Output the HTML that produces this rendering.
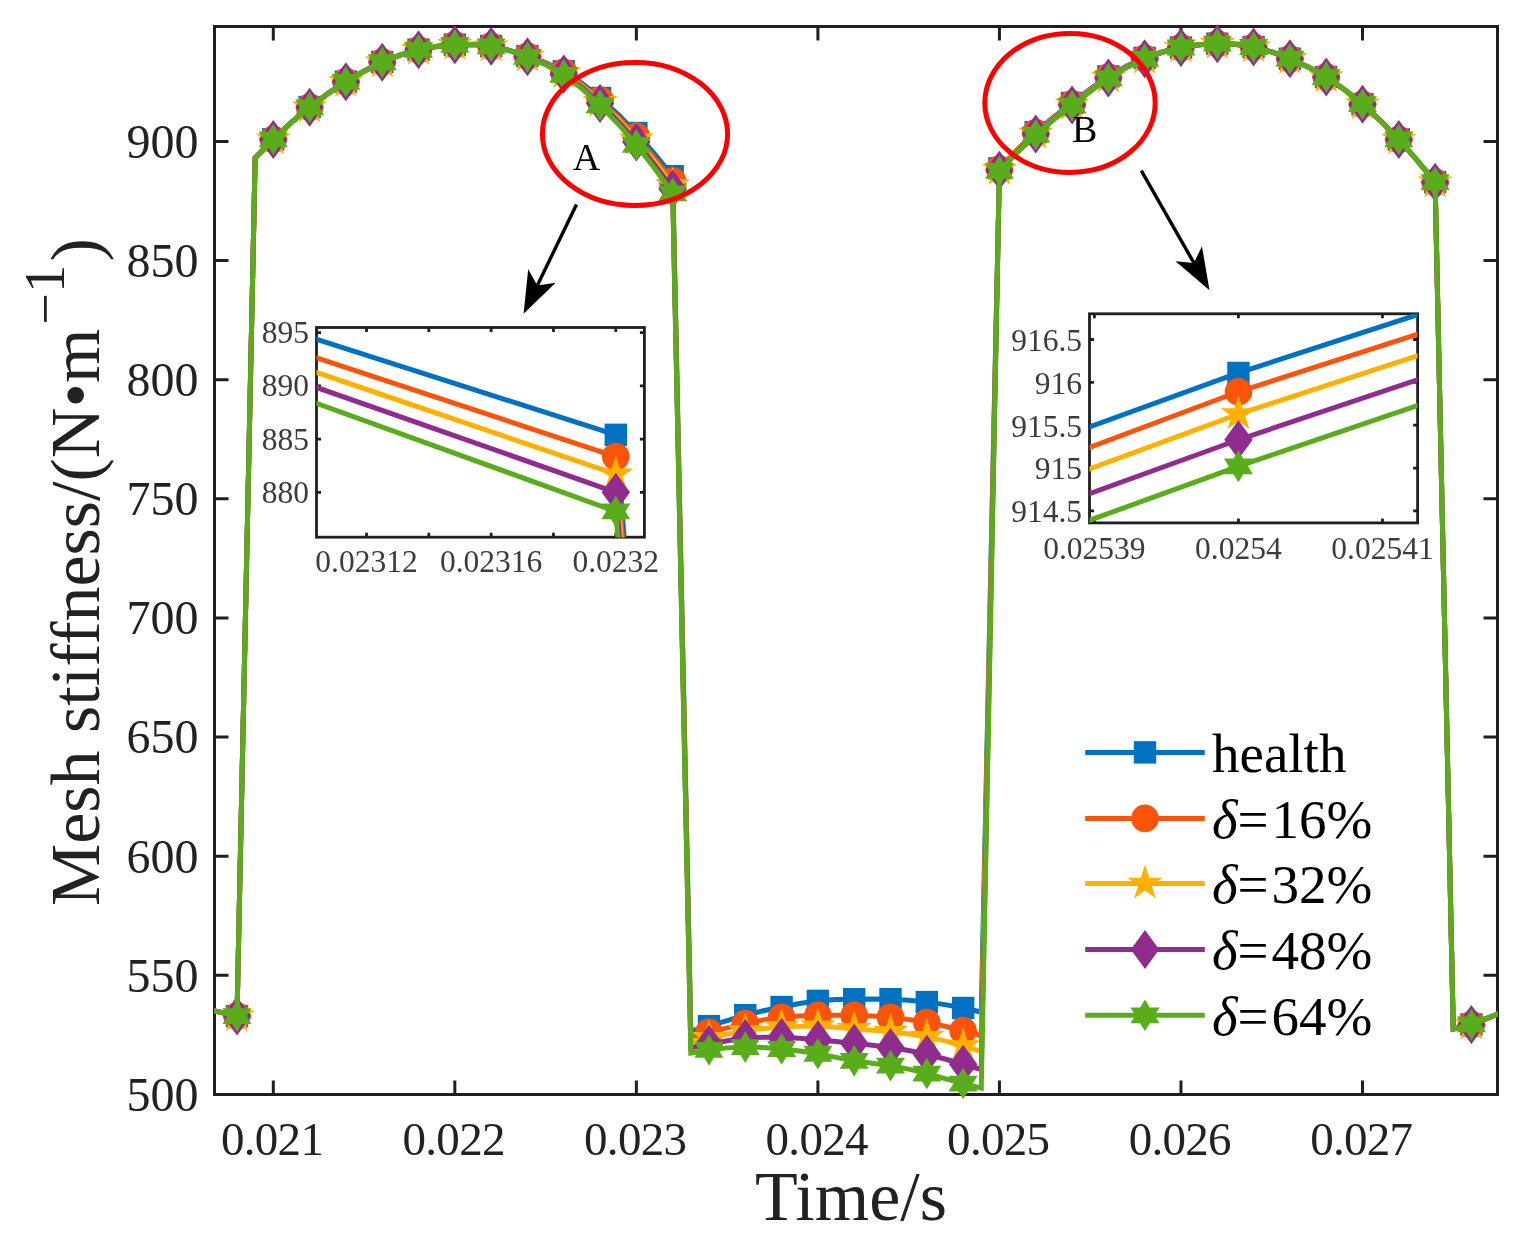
<!DOCTYPE html>
<html><head><meta charset="utf-8"><title>Mesh stiffness</title>
<style>html,body{margin:0;padding:0;background:#fff;overflow:hidden;width:1520px;height:1241px;} svg{display:block;}</style></head>
<body>
<svg width="1520" height="1241" viewBox="0 0 1520 1241" font-family="Liberation Serif, Times New Roman, serif">
<rect width="100%" height="100%" fill="#fff"/>
<defs><clipPath id="cm"><rect x="214.5" y="26.5" width="1283.0" height="1068.0"/></clipPath></defs>
<rect x="214.5" y="26.5" width="1283.0" height="1068.0" fill="none" stroke="#1f1f1f" stroke-width="3"/>
<path d="M273.3,1094.5v-14M273.3,26.5v14M454.83,1094.5v-14M454.83,26.5v14M636.37,1094.5v-14M636.37,26.5v14M817.9,1094.5v-14M817.9,26.5v14M999.43,1094.5v-14M999.43,26.5v14M1180.97,1094.5v-14M1180.97,26.5v14M1362.5,1094.5v-14M1362.5,26.5v14M214.5,1094.5h14M1497.5,1094.5h-14M214.5,975.36h14M1497.5,975.36h-14M214.5,856.22h14M1497.5,856.22h-14M214.5,737.08h14M1497.5,737.08h-14M214.5,617.94h14M1497.5,617.94h-14M214.5,498.8h14M1497.5,498.8h-14M214.5,379.66h14M1497.5,379.66h-14M214.5,260.52h14M1497.5,260.52h-14M214.5,141.38h14M1497.5,141.38h-14" stroke="#1f1f1f" stroke-width="3" fill="none"/>
<polyline clip-path="url(#cm)" points="200.69,1008.24 218.84,1011.82 236.99,1016.11 255.15,157.82 273.3,139.24 291.45,122.25 309.61,107.07 327.76,93.56 345.91,81.57 364.07,71 382.22,62.03 400.37,54.88 418.53,49.64 436.68,46.34 454.83,44.64 472.99,44.34 491.14,46.07 509.29,50.29 527.45,56.08 545.6,62.67 563.75,71.33 581.91,83.33 600.06,98.01 618.21,114.49 636.37,133.04 654.52,153.91 672.67,176.17 690.83,1031.12 708.98,1026.11 727.13,1020.53 745.29,1015.15 763.44,1010.78 781.59,1007.05 799.75,1003.54 817.9,1000.86 836.05,999.6 854.21,999.19 872.36,998.97 890.51,999.19 908.67,1000.21 926.82,1002.05 944.97,1004.64 963.13,1008 981.28,1012.06 999.43,168.31 1017.59,149.49 1035.74,132.09 1053.89,117 1072.05,103.02 1090.2,88.96 1108.35,76.38 1126.51,66.02 1144.66,57.89 1162.81,51.72 1180.96,47.5 1199.12,44.7 1217.27,43.69 1235.42,44.35 1253.58,47.02 1271.73,51.94 1289.88,58.7 1308.04,66.92 1326.19,77.04 1344.34,89.54 1362.5,104.21 1380.65,120.81 1398.8,139.47 1416.96,160.22 1435.11,182.13 1453.26,1028.97 1471.42,1024.45 1489.57,1017.3 1507.72,1009.91" fill="none" stroke="#0072C4" stroke-width="5.0" stroke-linejoin="miter" stroke-miterlimit="3" stroke-linecap="butt"/>
<rect x="225.79" y="1004.91" width="22.4" height="22.4" fill="#0072C4"/>
<rect x="262.1" y="128.04" width="22.4" height="22.4" fill="#0072C4"/>
<rect x="298.41" y="95.87" width="22.4" height="22.4" fill="#0072C4"/>
<rect x="334.71" y="70.37" width="22.4" height="22.4" fill="#0072C4"/>
<rect x="371.02" y="50.83" width="22.4" height="22.4" fill="#0072C4"/>
<rect x="407.33" y="38.44" width="22.4" height="22.4" fill="#0072C4"/>
<rect x="443.63" y="33.44" width="22.4" height="22.4" fill="#0072C4"/>
<rect x="479.94" y="34.87" width="22.4" height="22.4" fill="#0072C4"/>
<rect x="516.25" y="44.88" width="22.4" height="22.4" fill="#0072C4"/>
<rect x="552.55" y="60.13" width="22.4" height="22.4" fill="#0072C4"/>
<rect x="588.86" y="86.81" width="22.4" height="22.4" fill="#0072C4"/>
<rect x="625.17" y="121.84" width="22.4" height="22.4" fill="#0072C4"/>
<rect x="661.47" y="164.97" width="22.4" height="22.4" fill="#0072C4"/>
<rect x="697.78" y="1014.91" width="22.4" height="22.4" fill="#0072C4"/>
<rect x="734.09" y="1003.95" width="22.4" height="22.4" fill="#0072C4"/>
<rect x="770.39" y="995.85" width="22.4" height="22.4" fill="#0072C4"/>
<rect x="806.7" y="989.66" width="22.4" height="22.4" fill="#0072C4"/>
<rect x="843.01" y="987.99" width="22.4" height="22.4" fill="#0072C4"/>
<rect x="879.31" y="987.99" width="22.4" height="22.4" fill="#0072C4"/>
<rect x="915.62" y="990.85" width="22.4" height="22.4" fill="#0072C4"/>
<rect x="951.93" y="996.8" width="22.4" height="22.4" fill="#0072C4"/>
<rect x="988.23" y="157.11" width="22.4" height="22.4" fill="#0072C4"/>
<rect x="1024.54" y="120.89" width="22.4" height="22.4" fill="#0072C4"/>
<rect x="1060.85" y="91.82" width="22.4" height="22.4" fill="#0072C4"/>
<rect x="1097.15" y="65.18" width="22.4" height="22.4" fill="#0072C4"/>
<rect x="1133.46" y="46.69" width="22.4" height="22.4" fill="#0072C4"/>
<rect x="1169.76" y="36.3" width="22.4" height="22.4" fill="#0072C4"/>
<rect x="1206.07" y="32.49" width="22.4" height="22.4" fill="#0072C4"/>
<rect x="1242.38" y="35.82" width="22.4" height="22.4" fill="#0072C4"/>
<rect x="1278.68" y="47.5" width="22.4" height="22.4" fill="#0072C4"/>
<rect x="1314.99" y="65.84" width="22.4" height="22.4" fill="#0072C4"/>
<rect x="1351.3" y="93.01" width="22.4" height="22.4" fill="#0072C4"/>
<rect x="1387.6" y="128.27" width="22.4" height="22.4" fill="#0072C4"/>
<rect x="1423.91" y="170.93" width="22.4" height="22.4" fill="#0072C4"/>
<rect x="1460.22" y="1013.25" width="22.4" height="22.4" fill="#0072C4"/>
<polyline clip-path="url(#cm)" points="200.69,1008.24 218.84,1011.82 236.99,1016.11 255.15,157.89 273.3,139.3 291.45,122.32 309.61,107.14 327.76,93.63 345.91,81.64 364.07,71.07 382.22,62.1 400.37,54.94 418.53,49.71 436.68,46.41 454.83,44.71 472.99,44.41 491.14,46.14 509.29,50.36 527.45,56.33 545.6,63.25 563.75,72.34 581.91,84.85 600.06,100.11 618.21,117.23 636.37,136.47 654.52,158.09 672.67,181.14 690.83,1036.36 708.98,1032.31 727.13,1027.86 745.29,1023.49 763.44,1019.86 781.59,1017.3 799.75,1015.94 817.9,1015.39 836.05,1015.22 854.21,1015.39 872.36,1016 890.51,1017.3 908.67,1019.51 926.82,1022.54 944.97,1026.25 963.13,1030.64 981.28,1035.64 999.43,169.07 1017.59,150.25 1035.74,132.85 1053.89,117.76 1072.05,103.78 1090.2,89.72 1108.35,76.99 1126.51,66.48 1144.66,58.19 1162.81,51.87 1180.96,47.5 1199.12,44.7 1217.27,43.69 1235.42,44.35 1253.58,47.02 1271.73,51.94 1289.88,58.7 1308.04,66.92 1326.19,77.04 1344.34,89.54 1362.5,104.21 1380.65,120.81 1398.8,139.47 1416.96,160.22 1435.11,182.13 1453.26,1028.97 1471.42,1024.45 1489.57,1017.3 1507.72,1009.91" fill="none" stroke="#FA530A" stroke-width="5.0" stroke-linejoin="miter" stroke-miterlimit="3" stroke-linecap="butt"/>
<circle cx="236.99" cy="1016.11" r="13.8" fill="#FA530A"/>
<circle cx="273.3" cy="139.3" r="13.8" fill="#FA530A"/>
<circle cx="309.61" cy="107.14" r="13.8" fill="#FA530A"/>
<circle cx="345.91" cy="81.64" r="13.8" fill="#FA530A"/>
<circle cx="382.22" cy="62.1" r="13.8" fill="#FA530A"/>
<circle cx="418.53" cy="49.71" r="13.8" fill="#FA530A"/>
<circle cx="454.83" cy="44.71" r="13.8" fill="#FA530A"/>
<circle cx="491.14" cy="46.14" r="13.8" fill="#FA530A"/>
<circle cx="527.45" cy="56.33" r="13.8" fill="#FA530A"/>
<circle cx="563.75" cy="72.34" r="13.8" fill="#FA530A"/>
<circle cx="600.06" cy="100.11" r="13.8" fill="#FA530A"/>
<circle cx="636.37" cy="136.47" r="13.8" fill="#FA530A"/>
<circle cx="672.67" cy="181.14" r="13.8" fill="#FA530A"/>
<circle cx="708.98" cy="1032.31" r="13.8" fill="#FA530A"/>
<circle cx="745.29" cy="1023.49" r="13.8" fill="#FA530A"/>
<circle cx="781.59" cy="1017.3" r="13.8" fill="#FA530A"/>
<circle cx="817.9" cy="1015.39" r="13.8" fill="#FA530A"/>
<circle cx="854.21" cy="1015.39" r="13.8" fill="#FA530A"/>
<circle cx="890.51" cy="1017.3" r="13.8" fill="#FA530A"/>
<circle cx="926.82" cy="1022.54" r="13.8" fill="#FA530A"/>
<circle cx="963.13" cy="1030.64" r="13.8" fill="#FA530A"/>
<circle cx="999.43" cy="169.07" r="13.8" fill="#FA530A"/>
<circle cx="1035.74" cy="132.85" r="13.8" fill="#FA530A"/>
<circle cx="1072.05" cy="103.78" r="13.8" fill="#FA530A"/>
<circle cx="1108.35" cy="76.99" r="13.8" fill="#FA530A"/>
<circle cx="1144.66" cy="58.19" r="13.8" fill="#FA530A"/>
<circle cx="1180.96" cy="47.5" r="13.8" fill="#FA530A"/>
<circle cx="1217.27" cy="43.69" r="13.8" fill="#FA530A"/>
<circle cx="1253.58" cy="47.02" r="13.8" fill="#FA530A"/>
<circle cx="1289.88" cy="58.7" r="13.8" fill="#FA530A"/>
<circle cx="1326.19" cy="77.04" r="13.8" fill="#FA530A"/>
<circle cx="1362.5" cy="104.21" r="13.8" fill="#FA530A"/>
<circle cx="1398.8" cy="139.47" r="13.8" fill="#FA530A"/>
<circle cx="1435.11" cy="182.13" r="13.8" fill="#FA530A"/>
<circle cx="1471.42" cy="1024.45" r="13.8" fill="#FA530A"/>
<polyline clip-path="url(#cm)" points="200.69,1008.24 218.84,1011.82 236.99,1016.11 255.15,157.94 273.3,139.36 291.45,122.37 309.61,107.19 327.76,93.68 345.91,81.69 364.07,71.13 382.22,62.16 400.37,55 418.53,49.76 436.68,46.46 454.83,44.76 472.99,44.47 491.14,46.19 509.29,50.41 527.45,56.52 545.6,63.7 563.75,73.13 581.91,86.04 600.06,101.74 618.21,119.36 636.37,139.14 654.52,161.34 672.67,185 690.83,1041.6 708.98,1037.79 727.13,1034.11 745.29,1030.88 763.44,1028.42 781.59,1026.83 799.75,1026.15 817.9,1026.35 836.05,1027.34 854.21,1028.73 872.36,1030.19 890.51,1031.83 908.67,1033.91 926.82,1036.84 944.97,1040.91 963.13,1045.89 981.28,1051.37 999.43,169.66 1017.59,150.84 1035.74,133.44 1053.89,118.35 1072.05,104.37 1090.2,90.31 1108.35,77.46 1126.51,66.83 1144.66,58.43 1162.81,51.99 1180.96,47.5 1199.12,44.7 1217.27,43.69 1235.42,44.35 1253.58,47.02 1271.73,51.94 1289.88,58.7 1308.04,66.92 1326.19,77.04 1344.34,89.54 1362.5,104.21 1380.65,120.81 1398.8,139.47 1416.96,160.22 1435.11,182.13 1453.26,1028.97 1471.42,1024.45 1489.57,1017.3 1507.72,1009.91" fill="none" stroke="#FFB000" stroke-width="5.0" stroke-linejoin="miter" stroke-miterlimit="3" stroke-linecap="butt"/>
<polygon points="236.99,997.51 241.17,1010.36 254.68,1010.36 243.75,1018.3 247.93,1031.15 236.99,1023.21 226.06,1031.15 230.24,1018.3 219.3,1010.36 232.82,1010.36" fill="#FFB000"/>
<polygon points="273.3,120.76 277.48,133.61 290.99,133.61 280.06,141.55 284.23,154.41 273.3,146.46 262.37,154.41 266.54,141.55 255.61,133.61 269.12,133.61" fill="#FFB000"/>
<polygon points="309.61,88.59 313.78,101.44 327.3,101.44 316.36,109.39 320.54,122.24 309.61,114.29 298.67,122.24 302.85,109.39 291.92,101.44 305.43,101.44" fill="#FFB000"/>
<polygon points="345.91,63.09 350.09,75.95 363.6,75.95 352.67,83.89 356.85,96.74 345.91,88.8 334.98,96.74 339.16,83.89 328.22,75.95 341.74,75.95" fill="#FFB000"/>
<polygon points="382.22,43.56 386.4,56.41 399.91,56.41 388.98,64.35 393.15,77.2 382.22,69.26 371.29,77.2 375.46,64.35 364.53,56.41 378.04,56.41" fill="#FFB000"/>
<polygon points="418.53,31.16 422.7,44.02 436.22,44.02 425.28,51.96 429.46,64.81 418.53,56.87 407.59,64.81 411.77,51.96 400.84,44.02 414.35,44.02" fill="#FFB000"/>
<polygon points="454.83,26.16 459.01,39.01 472.52,39.01 461.59,46.96 465.77,59.81 454.83,51.87 443.9,59.81 448.08,46.96 437.14,39.01 450.66,39.01" fill="#FFB000"/>
<polygon points="491.14,27.59 495.32,40.44 508.83,40.44 497.9,48.39 502.07,61.24 491.14,53.3 480.21,61.24 484.38,48.39 473.45,40.44 486.96,40.44" fill="#FFB000"/>
<polygon points="527.45,37.92 531.62,50.77 545.14,50.77 534.2,58.72 538.38,71.57 527.45,63.63 516.51,71.57 520.69,58.72 509.76,50.77 523.27,50.77" fill="#FFB000"/>
<polygon points="563.75,54.53 567.93,67.38 581.44,67.38 570.51,75.32 574.69,88.17 563.75,80.23 552.82,88.17 557,75.32 546.06,67.38 559.58,67.38" fill="#FFB000"/>
<polygon points="600.06,83.14 604.24,96 617.75,96 606.82,103.94 610.99,116.79 600.06,108.85 589.13,116.79 593.3,103.94 582.37,96 595.88,96" fill="#FFB000"/>
<polygon points="636.37,120.54 640.54,133.39 654.06,133.39 643.12,141.33 647.3,154.19 636.37,146.24 625.43,154.19 629.61,141.33 618.68,133.39 632.19,133.39" fill="#FFB000"/>
<polygon points="672.67,166.4 676.85,179.26 690.36,179.26 679.43,187.2 683.61,200.05 672.67,192.11 661.74,200.05 665.92,187.2 654.98,179.26 668.5,179.26" fill="#FFB000"/>
<polygon points="708.98,1019.19 713.16,1032.04 726.67,1032.04 715.74,1039.98 719.91,1052.84 708.98,1044.89 698.05,1052.84 702.22,1039.98 691.29,1032.04 704.8,1032.04" fill="#FFB000"/>
<polygon points="745.29,1012.28 749.46,1025.13 762.98,1025.13 752.04,1033.07 756.22,1045.93 745.29,1037.98 734.35,1045.93 738.53,1033.07 727.6,1025.13 741.11,1025.13" fill="#FFB000"/>
<polygon points="781.59,1008.23 785.77,1021.08 799.28,1021.08 788.35,1029.02 792.53,1041.88 781.59,1033.93 770.66,1041.88 774.84,1029.02 763.9,1021.08 777.42,1021.08" fill="#FFB000"/>
<polygon points="817.9,1007.75 822.07,1020.6 835.59,1020.6 824.66,1028.55 828.83,1041.4 817.9,1033.46 806.97,1041.4 811.14,1028.55 800.21,1020.6 813.72,1020.6" fill="#FFB000"/>
<polygon points="854.21,1010.13 858.38,1022.99 871.9,1022.99 860.96,1030.93 865.14,1043.78 854.21,1035.84 843.27,1043.78 847.45,1030.93 836.52,1022.99 850.03,1022.99" fill="#FFB000"/>
<polygon points="890.51,1013.23 894.69,1026.08 908.2,1026.08 897.27,1034.03 901.45,1046.88 890.51,1038.94 879.58,1046.88 883.76,1034.03 872.82,1026.08 886.34,1026.08" fill="#FFB000"/>
<polygon points="926.82,1018.24 930.99,1031.09 944.51,1031.09 933.58,1039.03 937.75,1051.88 926.82,1043.94 915.89,1051.88 920.06,1039.03 909.13,1031.09 922.64,1031.09" fill="#FFB000"/>
<polygon points="963.13,1027.29 967.3,1040.14 980.82,1040.14 969.88,1048.09 974.06,1060.94 963.13,1053 952.19,1060.94 956.37,1048.09 945.44,1040.14 958.95,1040.14" fill="#FFB000"/>
<polygon points="999.43,151.06 1003.61,163.91 1017.12,163.91 1006.19,171.85 1010.36,184.7 999.43,176.76 988.5,184.7 992.68,171.85 981.74,163.91 995.26,163.91" fill="#FFB000"/>
<polygon points="1035.74,114.84 1039.91,127.69 1053.43,127.69 1042.5,135.63 1046.67,148.48 1035.74,140.54 1024.81,148.48 1028.98,135.63 1018.05,127.69 1031.56,127.69" fill="#FFB000"/>
<polygon points="1072.05,85.77 1076.22,98.62 1089.73,98.62 1078.8,106.56 1082.98,119.41 1072.05,111.47 1061.11,119.41 1065.29,106.56 1054.36,98.62 1067.87,98.62" fill="#FFB000"/>
<polygon points="1108.35,58.86 1112.53,71.71 1126.04,71.71 1115.11,79.65 1119.28,92.5 1108.35,84.56 1097.42,92.5 1101.59,79.65 1090.66,71.71 1104.18,71.71" fill="#FFB000"/>
<polygon points="1144.66,39.83 1148.83,52.68 1162.35,52.68 1151.42,60.62 1155.59,73.47 1144.66,65.53 1133.73,73.47 1137.9,60.62 1126.97,52.68 1140.48,52.68" fill="#FFB000"/>
<polygon points="1180.96,28.9 1185.14,41.75 1198.65,41.75 1187.72,49.69 1191.9,62.55 1180.96,54.6 1170.03,62.55 1174.21,49.69 1163.28,41.75 1176.79,41.75" fill="#FFB000"/>
<polygon points="1217.27,25.09 1221.45,37.94 1234.96,37.94 1224.03,45.88 1228.2,58.73 1217.27,50.79 1206.34,58.73 1210.51,45.88 1199.58,37.94 1213.1,37.94" fill="#FFB000"/>
<polygon points="1253.58,28.42 1257.75,41.27 1271.27,41.27 1260.34,49.22 1264.51,62.07 1253.58,54.13 1242.65,62.07 1246.82,49.22 1235.89,41.27 1249.4,41.27" fill="#FFB000"/>
<polygon points="1289.88,40.1 1294.06,52.95 1307.57,52.95 1296.64,60.89 1300.82,73.74 1289.88,65.8 1278.95,73.74 1283.13,60.89 1272.2,52.95 1285.71,52.95" fill="#FFB000"/>
<polygon points="1326.19,58.44 1330.37,71.3 1343.88,71.3 1332.95,79.24 1337.12,92.09 1326.19,84.15 1315.26,92.09 1319.43,79.24 1308.5,71.3 1322.02,71.3" fill="#FFB000"/>
<polygon points="1362.5,85.61 1366.67,98.46 1380.19,98.46 1369.25,106.4 1373.43,119.26 1362.5,111.31 1351.57,119.26 1355.74,106.4 1344.81,98.46 1358.32,98.46" fill="#FFB000"/>
<polygon points="1398.8,120.87 1402.98,133.73 1416.49,133.73 1405.56,141.67 1409.74,154.52 1398.8,146.58 1387.87,154.52 1392.05,141.67 1381.11,133.73 1394.63,133.73" fill="#FFB000"/>
<polygon points="1435.11,163.53 1439.29,176.38 1452.8,176.38 1441.87,184.32 1446.04,197.17 1435.11,189.23 1424.18,197.17 1428.35,184.32 1417.42,176.38 1430.94,176.38" fill="#FFB000"/>
<polygon points="1471.42,1005.85 1475.59,1018.7 1489.11,1018.7 1478.17,1026.64 1482.35,1039.49 1471.42,1031.55 1460.48,1039.49 1464.66,1026.64 1453.73,1018.7 1467.24,1018.7" fill="#FFB000"/>
<polyline clip-path="url(#cm)" points="200.69,1008.24 218.84,1011.82 236.99,1016.11 255.15,158 273.3,139.41 291.45,122.43 309.61,107.25 327.76,93.74 345.91,81.75 364.07,71.18 382.22,62.21 400.37,55.05 418.53,49.82 436.68,46.52 454.83,44.82 472.99,44.52 491.14,46.25 509.29,50.47 527.45,56.72 545.6,64.18 563.75,73.95 581.91,87.27 600.06,103.45 618.21,121.58 636.37,141.92 654.52,164.73 672.67,189.04 690.83,1047.8 708.98,1044.22 727.13,1040.82 745.29,1038.27 763.44,1037.18 781.59,1037.31 799.75,1038.25 817.9,1039.7 836.05,1041.41 854.21,1043.27 872.36,1045.25 890.51,1047.56 908.67,1050.46 926.82,1054.23 944.97,1058.99 963.13,1064.24 981.28,1069.48 999.43,170.27 1017.59,151.45 1035.74,134.05 1053.89,118.97 1072.05,104.98 1090.2,90.92 1108.35,77.95 1126.51,67.2 1144.66,58.67 1162.81,52.11 1180.96,47.5 1199.12,44.7 1217.27,43.69 1235.42,44.35 1253.58,47.02 1271.73,51.94 1289.88,58.7 1308.04,66.92 1326.19,77.04 1344.34,89.54 1362.5,104.21 1380.65,120.81 1398.8,139.47 1416.96,160.22 1435.11,182.13 1453.26,1028.97 1471.42,1024.45 1489.57,1017.3 1507.72,1009.91" fill="none" stroke="#902C90" stroke-width="5.0" stroke-linejoin="miter" stroke-miterlimit="3" stroke-linecap="butt"/>
<polygon points="236.99,996.61 251.19,1016.11 236.99,1035.61 222.79,1016.11" fill="#902C90"/>
<polygon points="273.3,119.91 287.5,139.41 273.3,158.91 259.1,139.41" fill="#902C90"/>
<polygon points="309.61,87.75 323.81,107.25 309.61,126.75 295.41,107.25" fill="#902C90"/>
<polygon points="345.91,62.25 360.11,81.75 345.91,101.25 331.71,81.75" fill="#902C90"/>
<polygon points="382.22,42.71 396.42,62.21 382.22,81.71 368.02,62.21" fill="#902C90"/>
<polygon points="418.53,30.32 432.73,49.82 418.53,69.32 404.33,49.82" fill="#902C90"/>
<polygon points="454.83,25.32 469.03,44.82 454.83,64.32 440.63,44.82" fill="#902C90"/>
<polygon points="491.14,26.75 505.34,46.25 491.14,65.75 476.94,46.25" fill="#902C90"/>
<polygon points="527.45,37.22 541.65,56.72 527.45,76.22 513.25,56.72" fill="#902C90"/>
<polygon points="563.75,54.45 577.95,73.95 563.75,93.45 549.55,73.95" fill="#902C90"/>
<polygon points="600.06,83.95 614.26,103.45 600.06,122.95 585.86,103.45" fill="#902C90"/>
<polygon points="636.37,122.42 650.57,141.92 636.37,161.42 622.17,141.92" fill="#902C90"/>
<polygon points="672.67,169.54 686.87,189.04 672.67,208.54 658.47,189.04" fill="#902C90"/>
<polygon points="708.98,1024.72 723.18,1044.22 708.98,1063.72 694.78,1044.22" fill="#902C90"/>
<polygon points="745.29,1018.77 759.49,1038.27 745.29,1057.77 731.09,1038.27" fill="#902C90"/>
<polygon points="781.59,1017.81 795.79,1037.31 781.59,1056.81 767.39,1037.31" fill="#902C90"/>
<polygon points="817.9,1020.2 832.1,1039.7 817.9,1059.2 803.7,1039.7" fill="#902C90"/>
<polygon points="854.21,1023.77 868.41,1043.27 854.21,1062.77 840.01,1043.27" fill="#902C90"/>
<polygon points="890.51,1028.06 904.71,1047.56 890.51,1067.06 876.31,1047.56" fill="#902C90"/>
<polygon points="926.82,1034.73 941.02,1054.23 926.82,1073.73 912.62,1054.23" fill="#902C90"/>
<polygon points="963.13,1044.74 977.33,1064.24 963.13,1083.74 948.93,1064.24" fill="#902C90"/>
<polygon points="999.43,150.77 1013.63,170.27 999.43,189.77 985.23,170.27" fill="#902C90"/>
<polygon points="1035.74,114.55 1049.94,134.05 1035.74,153.55 1021.54,134.05" fill="#902C90"/>
<polygon points="1072.05,85.48 1086.25,104.98 1072.05,124.48 1057.85,104.98" fill="#902C90"/>
<polygon points="1108.35,58.45 1122.55,77.95 1108.35,97.45 1094.15,77.95" fill="#902C90"/>
<polygon points="1144.66,39.17 1158.86,58.67 1144.66,78.17 1130.46,58.67" fill="#902C90"/>
<polygon points="1180.96,28 1195.16,47.5 1180.96,67 1166.76,47.5" fill="#902C90"/>
<polygon points="1217.27,24.19 1231.47,43.69 1217.27,63.19 1203.07,43.69" fill="#902C90"/>
<polygon points="1253.58,27.52 1267.78,47.02 1253.58,66.52 1239.38,47.02" fill="#902C90"/>
<polygon points="1289.88,39.2 1304.08,58.7 1289.88,78.2 1275.68,58.7" fill="#902C90"/>
<polygon points="1326.19,57.54 1340.39,77.04 1326.19,96.54 1311.99,77.04" fill="#902C90"/>
<polygon points="1362.5,84.71 1376.7,104.21 1362.5,123.71 1348.3,104.21" fill="#902C90"/>
<polygon points="1398.8,119.97 1413,139.47 1398.8,158.97 1384.6,139.47" fill="#902C90"/>
<polygon points="1435.11,162.63 1449.31,182.13 1435.11,201.63 1420.91,182.13" fill="#902C90"/>
<polygon points="1471.42,1004.95 1485.62,1024.45 1471.42,1043.95 1457.22,1024.45" fill="#902C90"/>
<polyline clip-path="url(#cm)" points="200.69,1008.24 218.84,1011.82 236.99,1016.11 255.15,158.06 273.3,139.47 291.45,122.48 309.61,107.31 327.76,93.8 345.91,81.81 364.07,71.24 382.22,62.27 400.37,55.11 418.53,49.88 436.68,46.58 454.83,44.88 472.99,44.58 491.14,46.31 509.29,50.53 527.45,56.94 545.6,64.68 563.75,74.82 581.91,88.58 600.06,105.26 618.21,123.94 636.37,144.88 654.52,168.33 672.67,193.33 690.83,1053.04 708.98,1049.94 727.13,1047.87 745.29,1047.08 763.44,1047.58 781.59,1048.99 799.75,1050.97 817.9,1053.75 836.05,1057.42 854.21,1060.9 872.36,1063.32 890.51,1065.67 908.67,1069.1 926.82,1073.53 944.97,1078.55 963.13,1083.54 981.28,1088.07 999.43,170.93 1017.59,152.11 1035.74,134.71 1053.89,119.62 1072.05,105.64 1090.2,91.58 1108.35,78.47 1126.51,67.59 1144.66,58.94 1162.81,52.24 1180.96,47.5 1199.12,44.7 1217.27,43.69 1235.42,44.35 1253.58,47.02 1271.73,51.94 1289.88,58.7 1308.04,66.92 1326.19,77.04 1344.34,89.54 1362.5,104.21 1380.65,120.81 1398.8,139.47 1416.96,160.22 1435.11,182.13 1453.26,1028.97 1471.42,1024.45 1489.57,1017.3 1507.72,1009.91" fill="none" stroke="#59AD1A" stroke-width="5.0" stroke-linejoin="miter" stroke-miterlimit="3" stroke-linecap="butt"/>
<polygon points="236.99,1000.31 241.83,1008.21 251.49,1008.21 246.66,1016.11 251.49,1024.01 241.83,1024.01 236.99,1031.91 232.16,1024.01 222.49,1024.01 227.33,1016.11 222.49,1008.21 232.16,1008.21" fill="#59AD1A"/>
<polygon points="273.3,123.67 278.13,131.57 287.8,131.57 282.97,139.47 287.8,147.37 278.13,147.37 273.3,155.27 268.47,147.37 258.8,147.37 263.63,139.47 258.8,131.57 268.47,131.57" fill="#59AD1A"/>
<polygon points="309.61,91.51 314.44,99.41 324.11,99.41 319.27,107.31 324.11,115.21 314.44,115.21 309.61,123.11 304.77,115.21 295.11,115.21 299.94,107.31 295.11,99.41 304.77,99.41" fill="#59AD1A"/>
<polygon points="345.91,66.01 350.75,73.91 360.41,73.91 355.58,81.81 360.41,89.71 350.75,89.71 345.91,97.61 341.08,89.71 331.41,89.71 336.25,81.81 331.41,73.91 341.08,73.91" fill="#59AD1A"/>
<polygon points="382.22,46.47 387.05,54.37 396.72,54.37 391.89,62.27 396.72,70.17 387.05,70.17 382.22,78.07 377.39,70.17 367.72,70.17 372.55,62.27 367.72,54.37 377.39,54.37" fill="#59AD1A"/>
<polygon points="418.53,34.08 423.36,41.98 433.03,41.98 428.19,49.88 433.03,57.78 423.36,57.78 418.53,65.68 413.69,57.78 404.03,57.78 408.86,49.88 404.03,41.98 413.69,41.98" fill="#59AD1A"/>
<polygon points="454.83,29.08 459.67,36.98 469.33,36.98 464.5,44.88 469.33,52.78 459.67,52.78 454.83,60.68 450,52.78 440.33,52.78 445.17,44.88 440.33,36.98 450,36.98" fill="#59AD1A"/>
<polygon points="491.14,30.51 495.97,38.41 505.64,38.41 500.81,46.31 505.64,54.21 495.97,54.21 491.14,62.11 486.31,54.21 476.64,54.21 481.47,46.31 476.64,38.41 486.31,38.41" fill="#59AD1A"/>
<polygon points="527.45,41.14 532.28,49.04 541.95,49.04 537.11,56.94 541.95,64.84 532.28,64.84 527.45,72.74 522.61,64.84 512.95,64.84 517.78,56.94 512.95,49.04 522.61,49.04" fill="#59AD1A"/>
<polygon points="563.75,59.02 568.59,66.92 578.25,66.92 573.42,74.82 578.25,82.72 568.59,82.72 563.75,90.62 558.92,82.72 549.25,82.72 554.09,74.82 549.25,66.92 558.92,66.92" fill="#59AD1A"/>
<polygon points="600.06,89.46 604.89,97.36 614.56,97.36 609.73,105.26 614.56,113.16 604.89,113.16 600.06,121.06 595.23,113.16 585.56,113.16 590.39,105.26 585.56,97.36 595.23,97.36" fill="#59AD1A"/>
<polygon points="636.37,129.08 641.2,136.98 650.87,136.98 646.03,144.88 650.87,152.78 641.2,152.78 636.37,160.68 631.53,152.78 621.87,152.78 626.7,144.88 621.87,136.98 631.53,136.98" fill="#59AD1A"/>
<polygon points="672.67,177.53 677.51,185.43 687.17,185.43 682.34,193.33 687.17,201.23 677.51,201.23 672.67,209.13 667.84,201.23 658.17,201.23 663.01,193.33 658.17,185.43 667.84,185.43" fill="#59AD1A"/>
<polygon points="708.98,1034.14 713.81,1042.04 723.48,1042.04 718.65,1049.94 723.48,1057.84 713.81,1057.84 708.98,1065.74 704.15,1057.84 694.48,1057.84 699.31,1049.94 694.48,1042.04 704.15,1042.04" fill="#59AD1A"/>
<polygon points="745.29,1031.28 750.12,1039.18 759.79,1039.18 754.95,1047.08 759.79,1054.98 750.12,1054.98 745.29,1062.88 740.45,1054.98 730.79,1054.98 735.62,1047.08 730.79,1039.18 740.45,1039.18" fill="#59AD1A"/>
<polygon points="781.59,1033.19 786.43,1041.09 796.09,1041.09 791.26,1048.99 796.09,1056.89 786.43,1056.89 781.59,1064.79 776.76,1056.89 767.09,1056.89 771.93,1048.99 767.09,1041.09 776.76,1041.09" fill="#59AD1A"/>
<polygon points="817.9,1037.95 822.73,1045.85 832.4,1045.85 827.57,1053.75 832.4,1061.65 822.73,1061.65 817.9,1069.55 813.07,1061.65 803.4,1061.65 808.23,1053.75 803.4,1045.85 813.07,1045.85" fill="#59AD1A"/>
<polygon points="854.21,1045.1 859.04,1053 868.71,1053 863.87,1060.9 868.71,1068.8 859.04,1068.8 854.21,1076.7 849.37,1068.8 839.71,1068.8 844.54,1060.9 839.71,1053 849.37,1053" fill="#59AD1A"/>
<polygon points="890.51,1049.87 895.35,1057.77 905.01,1057.77 900.18,1065.67 905.01,1073.57 895.35,1073.57 890.51,1081.47 885.68,1073.57 876.01,1073.57 880.85,1065.67 876.01,1057.77 885.68,1057.77" fill="#59AD1A"/>
<polygon points="926.82,1057.73 931.65,1065.63 941.32,1065.63 936.49,1073.53 941.32,1081.43 931.65,1081.43 926.82,1089.33 921.99,1081.43 912.32,1081.43 917.15,1073.53 912.32,1065.63 921.99,1065.63" fill="#59AD1A"/>
<polygon points="963.13,1067.74 967.96,1075.64 977.63,1075.64 972.79,1083.54 977.63,1091.44 967.96,1091.44 963.13,1099.34 958.29,1091.44 948.63,1091.44 953.46,1083.54 948.63,1075.64 958.29,1075.64" fill="#59AD1A"/>
<polygon points="999.43,155.13 1004.27,163.03 1013.93,163.03 1009.1,170.93 1013.93,178.83 1004.27,178.83 999.43,186.73 994.6,178.83 984.93,178.83 989.77,170.93 984.93,163.03 994.6,163.03" fill="#59AD1A"/>
<polygon points="1035.74,118.91 1040.57,126.81 1050.24,126.81 1045.41,134.71 1050.24,142.61 1040.57,142.61 1035.74,150.51 1030.91,142.61 1021.24,142.61 1026.07,134.71 1021.24,126.81 1030.91,126.81" fill="#59AD1A"/>
<polygon points="1072.05,89.84 1076.88,97.74 1086.55,97.74 1081.71,105.64 1086.55,113.54 1076.88,113.54 1072.05,121.44 1067.21,113.54 1057.55,113.54 1062.38,105.64 1057.55,97.74 1067.21,97.74" fill="#59AD1A"/>
<polygon points="1108.35,62.67 1113.19,70.57 1122.85,70.57 1118.02,78.47 1122.85,86.37 1113.19,86.37 1108.35,94.27 1103.52,86.37 1093.85,86.37 1098.69,78.47 1093.85,70.57 1103.52,70.57" fill="#59AD1A"/>
<polygon points="1144.66,43.14 1149.49,51.04 1159.16,51.04 1154.33,58.94 1159.16,66.84 1149.49,66.84 1144.66,74.74 1139.83,66.84 1130.16,66.84 1134.99,58.94 1130.16,51.04 1139.83,51.04" fill="#59AD1A"/>
<polygon points="1180.96,31.7 1185.8,39.6 1195.46,39.6 1190.63,47.5 1195.46,55.4 1185.8,55.4 1180.96,63.3 1176.13,55.4 1166.46,55.4 1171.3,47.5 1166.46,39.6 1176.13,39.6" fill="#59AD1A"/>
<polygon points="1217.27,27.89 1222.1,35.79 1231.77,35.79 1226.94,43.69 1231.77,51.59 1222.1,51.59 1217.27,59.49 1212.44,51.59 1202.77,51.59 1207.6,43.69 1202.77,35.79 1212.44,35.79" fill="#59AD1A"/>
<polygon points="1253.58,31.22 1258.41,39.12 1268.08,39.12 1263.24,47.02 1268.08,54.92 1258.41,54.92 1253.58,62.82 1248.74,54.92 1239.08,54.92 1243.91,47.02 1239.08,39.12 1248.74,39.12" fill="#59AD1A"/>
<polygon points="1289.88,42.9 1294.72,50.8 1304.38,50.8 1299.55,58.7 1304.38,66.6 1294.72,66.6 1289.88,74.5 1285.05,66.6 1275.38,66.6 1280.22,58.7 1275.38,50.8 1285.05,50.8" fill="#59AD1A"/>
<polygon points="1326.19,61.24 1331.02,69.14 1340.69,69.14 1335.86,77.04 1340.69,84.94 1331.02,84.94 1326.19,92.84 1321.36,84.94 1311.69,84.94 1316.52,77.04 1311.69,69.14 1321.36,69.14" fill="#59AD1A"/>
<polygon points="1362.5,88.41 1367.33,96.31 1377,96.31 1372.16,104.21 1377,112.11 1367.33,112.11 1362.5,120.01 1357.66,112.11 1348,112.11 1352.83,104.21 1348,96.31 1357.66,96.31" fill="#59AD1A"/>
<polygon points="1398.8,123.67 1403.64,131.57 1413.3,131.57 1408.47,139.47 1413.3,147.37 1403.64,147.37 1398.8,155.27 1393.97,147.37 1384.3,147.37 1389.14,139.47 1384.3,131.57 1393.97,131.57" fill="#59AD1A"/>
<polygon points="1435.11,166.33 1439.94,174.23 1449.61,174.23 1444.78,182.13 1449.61,190.03 1439.94,190.03 1435.11,197.93 1430.28,190.03 1420.61,190.03 1425.44,182.13 1420.61,174.23 1430.28,174.23" fill="#59AD1A"/>
<polygon points="1471.42,1008.65 1476.25,1016.55 1485.92,1016.55 1481.08,1024.45 1485.92,1032.35 1476.25,1032.35 1471.42,1040.25 1466.58,1032.35 1456.92,1032.35 1461.75,1024.45 1456.92,1016.55 1466.58,1016.55" fill="#59AD1A"/>
<text x="272.1" y="1154.5" font-size="47" letter-spacing="-0.7" text-anchor="middle" fill="#222">0.021</text>
<text x="453.63" y="1154.5" font-size="47" letter-spacing="-0.7" text-anchor="middle" fill="#222">0.022</text>
<text x="635.17" y="1154.5" font-size="47" letter-spacing="-0.7" text-anchor="middle" fill="#222">0.023</text>
<text x="816.7" y="1154.5" font-size="47" letter-spacing="-0.7" text-anchor="middle" fill="#222">0.024</text>
<text x="998.23" y="1154.5" font-size="47" letter-spacing="-0.7" text-anchor="middle" fill="#222">0.025</text>
<text x="1179.77" y="1154.5" font-size="47" letter-spacing="-0.7" text-anchor="middle" fill="#222">0.026</text>
<text x="1361.3" y="1154.5" font-size="47" letter-spacing="-0.7" text-anchor="middle" fill="#222">0.027</text>
<text x="198.6" y="1110.8" font-size="48" text-anchor="end" fill="#222">500</text>
<text x="198.6" y="991.66" font-size="48" text-anchor="end" fill="#222">550</text>
<text x="198.6" y="872.52" font-size="48" text-anchor="end" fill="#222">600</text>
<text x="198.6" y="753.38" font-size="48" text-anchor="end" fill="#222">650</text>
<text x="198.6" y="634.24" font-size="48" text-anchor="end" fill="#222">700</text>
<text x="198.6" y="515.1" font-size="48" text-anchor="end" fill="#222">750</text>
<text x="198.6" y="395.96" font-size="48" text-anchor="end" fill="#222">800</text>
<text x="198.6" y="276.82" font-size="48" text-anchor="end" fill="#222">850</text>
<text x="198.6" y="157.68" font-size="48" text-anchor="end" fill="#222">900</text>
<text x="851" y="1220" font-size="70" text-anchor="middle" fill="#222">Time/s</text>
<text transform="translate(98.5,906) rotate(-90)" font-size="70" fill="#222">Mesh stiffness/(N•m<tspan font-size="56" dx="4" dy="-35">−1</tspan><tspan dx="3.5" dy="35">)</tspan></text>
<ellipse cx="635" cy="133.9" rx="92.6" ry="71.5" fill="none" stroke="#FF0000" stroke-width="5"/>
<ellipse cx="1070" cy="102.9" rx="85.2" ry="69.5" fill="none" stroke="#FF0000" stroke-width="5"/>
<text x="586.5" y="170" font-size="38" text-anchor="middle" fill="#000">A</text>
<text x="1084.6" y="142" font-size="38" text-anchor="middle" fill="#000">B</text>
<line x1="576.5" y1="204.6" x2="537.33" y2="285.45" stroke="#000" stroke-width="3.4"/><polygon points="523.6,313.8 528.19,269.35 537.33,285.45 555.64,282.65" fill="#000"/>
<line x1="1141.3" y1="170.7" x2="1193.9" y2="262.94" stroke="#000" stroke-width="3.4"/><polygon points="1209.5,290.3 1175.45,261.37 1193.9,262.94 1201.94,246.26" fill="#000"/>
<rect x="316.5" y="327.5" width="327.9" height="209.7" fill="#fff"/>
<clipPath id="ca"><rect x="316.5" y="327.5" width="327.9" height="209.7"/></clipPath>
<rect x="316.5" y="327.5" width="327.9" height="209.7" fill="none" stroke="#1f1f1f" stroke-width="2.8"/>
<path d="M366.51,537.2v-4.5M366.51,327.5v4.5M428.83,537.2v-4.5M428.83,327.5v4.5M491.15,537.2v-4.5M491.15,327.5v4.5M553.47,537.2v-4.5M553.47,327.5v4.5M615.79,537.2v-4.5M615.79,327.5v4.5M316.5,492.28h4.5M644.4,492.28h-4.5M316.5,439.06h4.5M644.4,439.06h-4.5M316.5,385.83h4.5M644.4,385.83h-4.5M316.5,332.61h4.5M644.4,332.61h-4.5" stroke="#1f1f1f" stroke-width="2.8" fill="none"/>
<polyline clip-path="url(#ca)" points="304.19,335.39 615.79,434.8 927.4,4254.11" fill="none" stroke="#0072C4" stroke-width="5.0" stroke-linejoin="miter"/>
<rect x="604.59" y="423.6" width="22.4" height="22.4" fill="#0072C4"/>
<polyline clip-path="url(#ca)" points="304.19,353.77 615.79,456.62 927.4,4277.52" fill="none" stroke="#FA530A" stroke-width="5.0" stroke-linejoin="miter"/>
<circle cx="615.79" cy="456.62" r="13.8" fill="#FA530A"/>
<polyline clip-path="url(#ca)" points="304.19,368.24 615.79,474.18 927.4,4300.94" fill="none" stroke="#FFB000" stroke-width="5.0" stroke-linejoin="miter"/>
<polygon points="615.79,455.58 619.97,468.44 633.48,468.44 622.55,476.38 626.73,489.23 615.79,481.29 604.86,489.23 609.04,476.38 598.11,468.44 611.62,468.44" fill="#FFB000"/>
<polyline clip-path="url(#ca)" points="304.19,383.12 615.79,492.28 927.4,4328.62" fill="none" stroke="#902C90" stroke-width="5.0" stroke-linejoin="miter"/>
<polygon points="615.79,472.78 629.99,492.28 615.79,511.78 601.59,492.28" fill="#902C90"/>
<polyline clip-path="url(#ca)" points="304.19,398.95 615.79,511.44 927.4,4352.04" fill="none" stroke="#59AD1A" stroke-width="5.0" stroke-linejoin="miter"/>
<polygon points="615.79,495.64 620.63,503.54 630.29,503.54 625.46,511.44 630.29,519.34 620.63,519.34 615.79,527.24 610.96,519.34 601.29,519.34 606.13,511.44 601.29,503.54 610.96,503.54" fill="#59AD1A"/>
<text x="366.51" y="571.7" font-size="31.5" text-anchor="middle" fill="#3c3c3c">0.02312</text>
<text x="491.15" y="571.7" font-size="31.5" text-anchor="middle" fill="#3c3c3c">0.02316</text>
<text x="615.79" y="571.7" font-size="31.5" text-anchor="middle" fill="#3c3c3c">0.0232</text>
<text x="309" y="502.78" font-size="31.5" text-anchor="end" fill="#3c3c3c">880</text>
<text x="309" y="449.56" font-size="31.5" text-anchor="end" fill="#3c3c3c">885</text>
<text x="309" y="396.33" font-size="31.5" text-anchor="end" fill="#3c3c3c">890</text>
<text x="309" y="343.11" font-size="31.5" text-anchor="end" fill="#3c3c3c">895</text>
<rect x="1089.5" y="313.8" width="328.1" height="209.1" fill="#fff"/>
<clipPath id="cb"><rect x="1089.5" y="313.8" width="328.1" height="209.1"/></clipPath>
<rect x="1089.5" y="313.8" width="328.1" height="209.1" fill="none" stroke="#1f1f1f" stroke-width="2.8"/>
<path d="M1094.4,522.9v-4.5M1094.4,313.8v4.5M1238.43,522.9v-4.5M1238.43,313.8v4.5M1382.46,522.9v-4.5M1382.46,313.8v4.5M1089.5,510.9h4.5M1417.6,510.9h-4.5M1089.5,468.05h4.5M1417.6,468.05h-4.5M1089.5,425.21h4.5M1417.6,425.21h-4.5M1089.5,382.36h4.5M1417.6,382.36h-4.5M1089.5,339.51h4.5M1417.6,339.51h-4.5" stroke="#1f1f1f" stroke-width="2.8" fill="none"/>
<polyline clip-path="url(#cb)" points="-201.87,895.07 1238.43,372.93 2678.73,-95.51" fill="none" stroke="#0072C4" stroke-width="5.0" stroke-linejoin="miter"/>
<rect x="1227.23" y="361.73" width="22.4" height="22.4" fill="#0072C4"/>
<polyline clip-path="url(#cb)" points="-201.87,930.5 1238.43,391.78 2678.73,-69.77" fill="none" stroke="#FA530A" stroke-width="5.0" stroke-linejoin="miter"/>
<circle cx="1238.43" cy="391.78" r="13.8" fill="#FA530A"/>
<polyline clip-path="url(#cb)" points="-201.87,944.49 1238.43,414.07 2678.73,-54.37" fill="none" stroke="#FFB000" stroke-width="5.0" stroke-linejoin="miter"/>
<polygon points="1238.43,395.47 1242.6,408.32 1256.12,408.32 1245.18,416.26 1249.36,429.11 1238.43,421.17 1227.49,429.11 1231.67,416.26 1220.74,408.32 1234.25,408.32" fill="#FFB000"/>
<polyline clip-path="url(#cb)" points="-201.87,961.91 1238.43,439.77 2678.73,-42.44" fill="none" stroke="#902C90" stroke-width="5.0" stroke-linejoin="miter"/>
<polygon points="1238.43,420.27 1252.63,439.77 1238.43,459.27 1224.23,439.77" fill="#902C90"/>
<polyline clip-path="url(#cb)" points="-201.87,988.48 1238.43,466.34 2678.73,-22.76" fill="none" stroke="#59AD1A" stroke-width="5.0" stroke-linejoin="miter"/>
<polygon points="1238.43,450.54 1243.26,458.44 1252.93,458.44 1248.09,466.34 1252.93,474.24 1243.26,474.24 1238.43,482.14 1233.59,474.24 1223.93,474.24 1228.76,466.34 1223.93,458.44 1233.59,458.44" fill="#59AD1A"/>
<text x="1094.4" y="558.9" font-size="31.5" text-anchor="middle" fill="#3c3c3c">0.02539</text>
<text x="1238.43" y="558.9" font-size="31.5" text-anchor="middle" fill="#3c3c3c">0.0254</text>
<text x="1382.46" y="558.9" font-size="31.5" text-anchor="middle" fill="#3c3c3c">0.02541</text>
<text x="1082" y="522.2" font-size="31.5" text-anchor="end" fill="#3c3c3c">914.5</text>
<text x="1082" y="479.35" font-size="31.5" text-anchor="end" fill="#3c3c3c">915</text>
<text x="1082" y="436.51" font-size="31.5" text-anchor="end" fill="#3c3c3c">915.5</text>
<text x="1082" y="393.66" font-size="31.5" text-anchor="end" fill="#3c3c3c">916</text>
<text x="1082" y="350.81" font-size="31.5" text-anchor="end" fill="#3c3c3c">916.5</text>
<line x1="1085.2" y1="752.4" x2="1204.8" y2="752.4" stroke="#0072C4" stroke-width="5.0"/>
<rect x="1133.8" y="741.2" width="22.4" height="22.4" fill="#0072C4"/>
<text x="1212" y="771.7" font-size="55" fill="#000">health</text>
<line x1="1085.2" y1="818.4" x2="1204.8" y2="818.4" stroke="#FA530A" stroke-width="5.0"/>
<circle cx="1145" cy="818.4" r="13.8" fill="#FA530A"/>
<text x="1212" y="837.7" font-size="55" fill="#000"><tspan font-style="italic">δ</tspan>=<tspan dx="3">16%</tspan></text>
<line x1="1085.2" y1="883.4" x2="1204.8" y2="883.4" stroke="#FFB000" stroke-width="5.0"/>
<polygon points="1145,864.8 1149.18,877.65 1162.69,877.65 1151.76,885.6 1155.93,898.45 1145,890.5 1134.07,898.45 1138.24,885.6 1127.31,877.65 1140.82,877.65" fill="#FFB000"/>
<text x="1212" y="902.7" font-size="55" fill="#000"><tspan font-style="italic">δ</tspan>=<tspan dx="3">32%</tspan></text>
<line x1="1085.2" y1="949.4" x2="1204.8" y2="949.4" stroke="#902C90" stroke-width="5.0"/>
<polygon points="1145,929.9 1159.2,949.4 1145,968.9 1130.8,949.4" fill="#902C90"/>
<text x="1212" y="968.7" font-size="55" fill="#000"><tspan font-style="italic">δ</tspan>=<tspan dx="3">48%</tspan></text>
<line x1="1085.2" y1="1015.3" x2="1204.8" y2="1015.3" stroke="#59AD1A" stroke-width="5.0"/>
<polygon points="1145,999.5 1149.83,1007.4 1159.5,1007.4 1154.67,1015.3 1159.5,1023.2 1149.83,1023.2 1145,1031.1 1140.17,1023.2 1130.5,1023.2 1135.33,1015.3 1130.5,1007.4 1140.17,1007.4" fill="#59AD1A"/>
<text x="1212" y="1034.6" font-size="55" fill="#000"><tspan font-style="italic">δ</tspan>=<tspan dx="3">64%</tspan></text>
</svg>
</body></html>
